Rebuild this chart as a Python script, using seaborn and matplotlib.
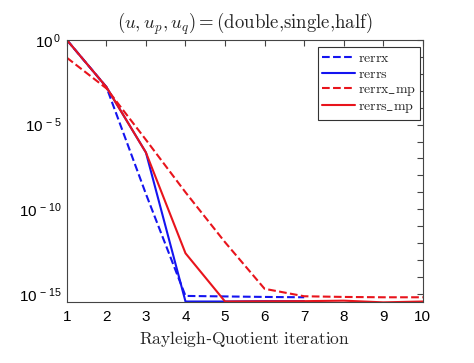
import numpy as np
import matplotlib
matplotlib.use('Agg')
import matplotlib.pyplot as plt
import seaborn as sns
from matplotlib.font_manager import FontProperties
from matplotlib.ticker import FixedLocator, FuncFormatter

# iteracoes e erros relativos (em log10)
it_x = [1, 2, 3, 4, 5, 6, 7]
it_mp = [1, 2, 3, 4, 5, 6, 7, 8, 9, 10]
log_rerrx = [0.0, -2.78, -9.1, -15.12, -15.15, -15.18, -15.2]
log_rerrs = [0.0, -2.78, -6.65, -15.45, -15.45, -15.43, -15.43]
log_rerrx_mp = [-1.05, -2.86, -5.9, -9.0, -11.95, -14.7, -15.14, -15.18, -15.2, -15.2]
log_rerrs_mp = [0.0, -2.78, -6.65, -12.6, -15.45, -15.44, -15.43, -15.4, -15.5, -15.45]

sns.set_theme(style='white')
plt.rcParams['font.family'] = ['Liberation Sans', 'DejaVu Sans']

fig = plt.figure(figsize=(4.74, 3.63), dpi=100)
ax = fig.add_axes([0.141, 0.168, 0.751, 0.722])

azul = '#1414f0'
verm = '#e8141c'
sns.lineplot(x=it_x, y=10.0 ** np.array(log_rerrx), ax=ax, color=azul,
             linestyle='--', linewidth=1.5, label=r'$\mathrm{rerrx}$')
sns.lineplot(x=it_x, y=10.0 ** np.array(log_rerrs), ax=ax, color=azul,
             linestyle='-', linewidth=1.5, label=r'$\mathrm{rerrs}$')
sns.lineplot(x=it_mp, y=10.0 ** np.array(log_rerrx_mp), ax=ax, color=verm,
             linestyle='--', linewidth=1.5, label=r'$\mathrm{rerrx\_mp}$')
sns.lineplot(x=it_mp, y=10.0 ** np.array(log_rerrs_mp), ax=ax, color=verm,
             linestyle='-', linewidth=1.5, label=r'$\mathrm{rerrs\_mp}$')

ax.set_yscale('log')
ax.set_xlim(1, 10)
ax.set_ylim(10 ** -15.48, 1)
ax.set_xticks(range(1, 11))
ax.yaxis.set_major_locator(FixedLocator([10.0 ** k for k in range(0, -16, -1)]))
ax.yaxis.set_minor_locator(FixedLocator([]))
ax.yaxis.set_major_formatter(FuncFormatter(
    lambda v, p: r'$\mathregular{10^{\,%d}}$' % round(np.log10(v)) if round(np.log10(v)) % 5 == 0 else ''))
ax.tick_params(direction='in', length=4, width=0.8, color='#444444', top=True, right=True,
               labelsize=11, labelcolor='black', pad=4)
ax.tick_params(axis='x', pad=6)
for s in ax.spines.values():
    s.set_color('#444444')
    s.set_linewidth(0.8)

ax.set_title(r'$(u,u_p,u_q) = (\mathrm{double{,}single{,}half})$',
             fontproperties=FontProperties(math_fontfamily='cm', size=13.5), pad=8)
ax.set_xlabel(r'$\mathrm{Rayleigh}$-$\mathrm{Quotient\ iteration}$',
              fontproperties=FontProperties(math_fontfamily='cm', size=12.5), labelpad=3)
ax.set_ylabel('')

leg = ax.legend(loc='upper right', bbox_to_anchor=(0.992, 0.973),
                prop=FontProperties(math_fontfamily='cm', size=10),
                fancybox=False, framealpha=1, edgecolor='#333333', handlelength=2.4,
                handletextpad=0.2, borderpad=0.3, labelspacing=0.1, borderaxespad=0)
leg.get_frame().set_linewidth(0.8)

fig.savefig('out.png', dpi=100)
